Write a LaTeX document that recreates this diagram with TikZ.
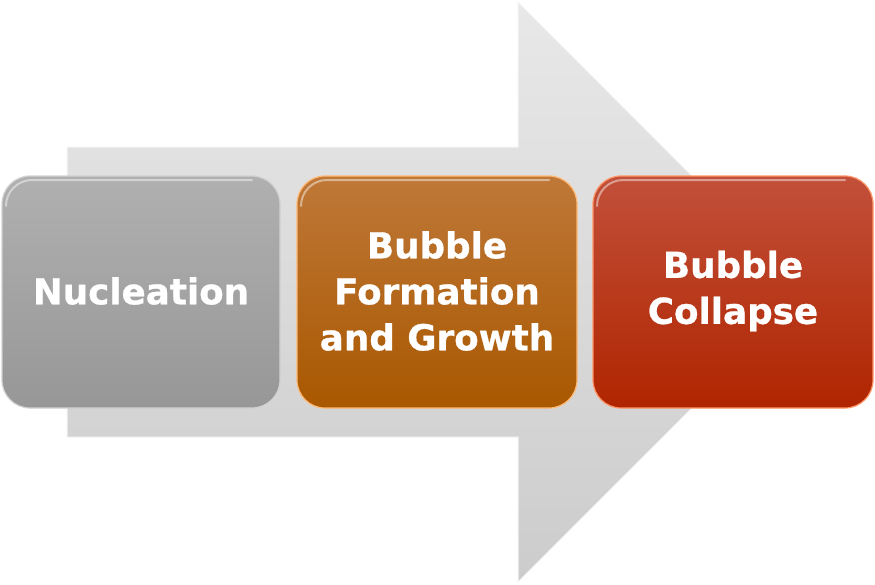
\documentclass[tikz,border=0pt]{standalone}
\usepackage{fontspec}
\setmainfont{DejaVu Sans}
\newfontfamily\lblfont{DejaVu Sans Bold}[FakeBold=0.8]
\begin{document}
\begin{tikzpicture}[x=1pt,y=-1pt,
  stepbox/.style={rounded corners=28pt, line width=1.2pt},
  sheen/.style={white, opacity=0.45, line width=2pt, line cap=round},
  lbl/.style={text=white, font=\fontsize{35.7}{46}\lblfont, align=center}]
\useasboundingbox (0,0) rectangle (875,584);
\definecolor{graytop}{HTML}{B0B0B0}
\definecolor{graybot}{HTML}{979797}
\definecolor{orgtop}{HTML}{BF7838}
\definecolor{orgbot}{HTML}{A95800}
\definecolor{redtop}{HTML}{C2503A}
\definecolor{redbot}{HTML}{B02500}
% big arrow
\path[top color=gray!18, bottom color=gray!40, draw=white!92!gray, line width=1pt]
  (67,147) -- (518,147) -- (518,2) -- (808,292) -- (518,582) -- (518,437) -- (67,437) -- cycle;
% boxes
\path[stepbox, top color=graytop, bottom color=graybot, draw=gray!35] (2,176) rectangle (280,408);
\path[stepbox, top color=orgtop, bottom color=orgbot, draw=orange!55!white] (297,176) rectangle (577,408);
\path[stepbox, top color=redtop, bottom color=redbot, draw=red!40!orange!60!white] (593,176) rectangle (873,408);
% glossy highlights
\draw[sheen] (6,206) arc[start angle=180,end angle=270,radius=26] -- (252,180);
\draw[sheen] (301,206) arc[start angle=180,end angle=270,radius=26] -- (549,180);
\draw[sheen] (597,206) arc[start angle=180,end angle=270,radius=26] -- (845,180);
\node[lbl] (n1) at (141,291) {Nucleation};
\node[lbl] (n2) at (437,291) {Bubble\\Formation\\and Growth};
\node[lbl] (n3) at (733,291) {Bubble\\Collapse};
\end{tikzpicture}
\end{document}
